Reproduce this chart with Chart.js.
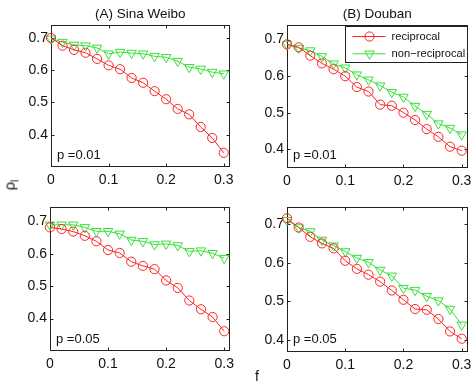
<!DOCTYPE html>
<html><head><meta charset="utf-8">
<script src="https://cdn.jsdelivr.net/npm/chart.js@4.4.1/dist/chart.umd.min.js"></script>
<style>
html,body{margin:0;padding:0;background:#fff;}
body{width:474px;height:384px;position:relative;overflow:hidden;font-family:"Liberation Sans",Arial,sans-serif;color:#111;}
.panel{position:absolute;}
#ylab{position:absolute;left:11px;top:185px;transform:translate(-50%,-50%) rotate(-90deg);font-size:15px;white-space:nowrap;line-height:1;}
#ylab sub{font-size:10px;}
#xlab{position:absolute;left:257px;top:376px;transform:translate(-50%,-50%);font-size:14px;line-height:1;}
</style></head>
<body>
<div class="panel" style="left:0;top:0"><canvas id="cA" width="237" height="190"></canvas></div>
<div class="panel" style="left:237px;top:0"><canvas id="cB" width="237" height="190"></canvas></div>
<div class="panel" style="left:0;top:190px"><canvas id="cC" width="237" height="194"></canvas></div>
<div class="panel" style="left:237px;top:190px"><canvas id="cD" width="237" height="194"></canvas></div>
<div id="ylab">ρ<sub>l</sub></div>
<div id="xlab">f</div>
<script>
const fVals = [0,0.02,0.04,0.06,0.08,0.10,0.12,0.14,0.16,0.18,0.20,0.22,0.24,0.26,0.28,0.30];
const weiboRecip01    = [0.700,0.676,0.663,0.654,0.635,0.615,0.603,0.576,0.561,0.535,0.510,0.480,0.463,0.424,0.390,0.344];
const weiboNonRecip01 = [0.697,0.687,0.678,0.676,0.669,0.651,0.656,0.653,0.651,0.643,0.640,0.628,0.609,0.604,0.594,0.589];
const doubanRecip01    = [0.687,0.679,0.656,0.635,0.619,0.600,0.570,0.558,0.522,0.519,0.500,0.480,0.455,0.434,0.407,0.396];
const doubanNonRecip01 = [0.687,0.677,0.670,0.654,0.634,0.623,0.604,0.590,0.574,0.556,0.543,0.518,0.496,0.470,0.458,0.440];
const weiboRecip05    = [0.682,0.677,0.669,0.656,0.639,0.612,0.603,0.576,0.563,0.553,0.518,0.495,0.456,0.429,0.405,0.361];
const weiboNonRecip05 = [0.690,0.690,0.690,0.682,0.670,0.670,0.662,0.643,0.639,0.629,0.631,0.626,0.608,0.610,0.602,0.587];
const doubanRecip05    = [0.715,0.691,0.667,0.650,0.637,0.605,0.584,0.569,0.551,0.528,0.504,0.480,0.478,0.454,0.422,0.403];
const doubanNonRecip05 = [0.710,0.691,0.681,0.659,0.644,0.629,0.612,0.601,0.581,0.566,0.534,0.529,0.513,0.502,0.480,0.439];

const xTicks = [0,0.1,0.2,0.3];
const xTickLabels = ['0','0.1','0.2','0.3'];
const yTicks = [0.4,0.5,0.6,0.7];
const yTickLabels = ['0.4','0.5','0.6','0.7'];
const titles = ['(A) Sina Weibo','(B) Douban'];
const seriesNames = ['reciprocal','non\u2212reciprocal'];
const pLabels = ['p =0.01','p =0.05'];

const RED = 'rgb(255,35,35)';
const GREEN = 'rgb(55,225,55)';
const FONT = '"Liberation Sans", Arial, sans-serif';

function pts(ys){ return fVals.map((f,i)=>({x:f,y:ys[i]})); }

function drawMarker(ctx, style, x, y, r, color){
  ctx.save(); ctx.strokeStyle=color; ctx.lineWidth=1; ctx.beginPath();
  if(style==='circle'){ ctx.arc(x,y,r,0,Math.PI*2); }
  else {
    for(let k=0;k<3;k++){ const a=Math.PI/2+k*2*Math.PI/3; const px=x+r*Math.cos(a), py=y+r*Math.sin(a); k?ctx.lineTo(px,py):ctx.moveTo(px,py);} ctx.closePath();
  }
  ctx.stroke(); ctx.restore();
}

const framePlugin = {
  id:'frame',
  beforeDatasetsDraw(chart){
    const {ctx, chartArea:a, scales:{x,y}} = chart;
    ctx.save(); ctx.strokeStyle='#222'; ctx.lineWidth=1;
    const L=Math.round(a.left)+0.5, R=Math.round(a.right)-0.5, T=Math.round(a.top)+0.5, B=Math.round(a.bottom)-0.5;
    ctx.strokeRect(L,T,R-L,B-T);
    ctx.beginPath();
    const tl=3;
    x.ticks.forEach(t=>{const px=Math.round(x.getPixelForValue(t.value))+0.5; ctx.moveTo(px,B); ctx.lineTo(px,B-tl); ctx.moveTo(px,T); ctx.lineTo(px,T+tl);});
    y.ticks.forEach(t=>{const py=Math.round(y.getPixelForValue(t.value))+0.5; ctx.moveTo(L,py); ctx.lineTo(L+tl,py); ctx.moveTo(R,py); ctx.lineTo(R-tl,py);});
    ctx.stroke(); ctx.restore();
  },
  afterDatasetsDraw(chart, args, opts){
    const {ctx, chartArea:a} = chart;
    ctx.save();
    ctx.fillStyle='#111'; ctx.font='13px '+FONT; ctx.textBaseline='middle'; ctx.textAlign='left';
    ctx.fillText(opts.pText, a.left+6, a.bottom-12);
    if(opts.legend){
      const R=Math.round(a.right)-0.5, Lf=R-122, T=Math.round(a.top)+1.5, H=36;
      ctx.fillStyle='#fff'; ctx.fillRect(Lf,T,R-Lf,H);
      ctx.strokeStyle='#222'; ctx.lineWidth=1; ctx.strokeRect(Lf,T,R-Lf,H);
      chart.data.datasets.forEach((ds,i)=>{
        const yy=T+10+i*17.3;
        ctx.strokeStyle=ds.borderColor; ctx.lineWidth=1;
        ctx.beginPath(); ctx.moveTo(Lf+7,yy); ctx.lineTo(Lf+40,yy); ctx.stroke();
        drawMarker(ctx, ds.pointStyle, Lf+24, yy, ds.pointStyle==='circle'?4.6:5.5, ds.borderColor);
        ctx.fillStyle='#111'; ctx.font='11.2px '+FONT; ctx.textBaseline='middle';
        ctx.fillText(ds.label, Lf+46, yy);
      });
    }
    ctx.restore();
  }
};

function makePanel(id, cfg){
  new Chart(document.getElementById(id), {
    type:'line',
    data:{ datasets:[
      {label:seriesNames[0], data:pts(cfg.red), borderColor:RED, backgroundColor:'rgba(0,0,0,0)', borderWidth:1,
       pointStyle:'circle', pointRadius:4.6, pointBorderWidth:1, pointBorderColor:RED, pointBackgroundColor:'rgba(0,0,0,0)', clip:false, tension:0},
      {label:seriesNames[1], data:pts(cfg.green), borderColor:GREEN, backgroundColor:'rgba(0,0,0,0)', borderWidth:1,
       pointStyle:'triangle', pointRotation:180, pointRadius:5.5, pointBorderWidth:1, pointBorderColor:GREEN, pointBackgroundColor:'rgba(0,0,0,0)', clip:false, tension:0}
    ]},
    options:{
      responsive:false, animation:false, devicePixelRatio:1,
      layout:{padding:{top:cfg.padTop, right:cfg.padRight, left:0, bottom:0}},
      plugins:{
        legend:{display:false}, tooltip:{enabled:false},
        title:{display:!!cfg.title, text:cfg.title||'', fullSize:false, color:'#111',
               font:{family:FONT, size:13.5, weight:'normal'}, padding:{top:6.5, bottom:2.3}},
        frame:{pText:cfg.pText, legend:cfg.legend}
      },
      scales:{
        x:{type:'linear', min:0, max:0.31,
           grid:{display:false, drawTicks:false}, border:{display:false},
           afterBuildTicks:s=>{ s.ticks = xTicks.map(v=>({value:v})); },
           ticks:{callback:(v,i)=>xTickLabels[i], color:'#111', padding:5, maxRotation:0, autoSkip:false, font:{family:FONT, size:14}},
           afterFit:s=>{ s.height=cfg.xH; s.paddingLeft=0; s.paddingRight=0; }},
        y:{type:'linear', min:cfg.ymin, max:cfg.ymax,
           grid:{display:false, drawTicks:false}, border:{display:false},
           afterBuildTicks:s=>{ s.ticks = yTicks.map(v=>({value:v})); },
           ticks:{callback:(v,i)=>yTickLabels[i], color:'#111', padding:3, autoSkip:false, font:{family:FONT, size:14}},
           afterFit:s=>{ s.width=cfg.yW; s.paddingTop=0; s.paddingBottom=0; }}
      }
    },
    plugins:[framePlugin]
  });
}

makePanel('cA',{title:titles[0], red:weiboRecip01, green:weiboNonRecip01, ymin:0.3, ymax:0.74, yW:51, xH:23, padTop:0, padRight:7.5, pText:pLabels[0], legend:false});
makePanel('cB',{title:titles[1], red:doubanRecip01, green:doubanNonRecip01, ymin:0.35, ymax:0.74, yW:50, xH:22.5, padTop:0, padRight:6.5, pText:pLabels[0], legend:true});
makePanel('cC',{title:null, red:weiboRecip05, green:weiboNonRecip05, ymin:0.3, ymax:0.745, yW:50, xH:33, padTop:17, padRight:7, pText:pLabels[1], legend:false});
makePanel('cD',{title:null, red:doubanRecip05, green:doubanNonRecip05, ymin:0.37, ymax:0.745, yW:50, xH:32.5, padTop:16.7, padRight:6.5, pText:pLabels[1], legend:false});
</script>
</body></html>
